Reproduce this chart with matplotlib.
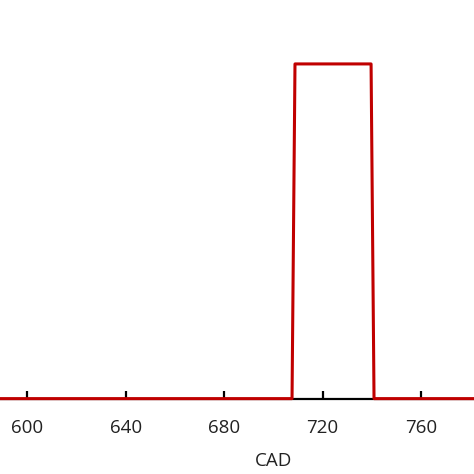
import matplotlib.pyplot as plt
import numpy as np

plt.rcParams['font.family'] = ['Open Sans', 'DejaVu Sans']

# CAD signal: flat at zero with one rectangular pulse
cad = np.array([589, 707.6, 708.8, 739.7, 740.9, 782])
signal = np.array([0, 0, 1, 1, 0, 0])
tick_values = [600, 640, 680, 720, 760]


def main():
    fig = plt.figure(figsize=(4.74, 4.74), dpi=100)
    ax = fig.add_axes([0, 0.159, 1, 0.841])

    ax.plot(cad, signal, color='#c00000', lw=2.2, clip_on=False, zorder=3)

    ax.set_xlim(589, 781.5)
    ax.set_ylim(0, 1.191)
    ax.set_xticks(tick_values)
    ax.set_yticks([])
    for side in ['left', 'right', 'top']:
        ax.spines[side].set_visible(False)
    ax.spines['bottom'].set_linewidth(1.6)
    ax.tick_params(axis='x', direction='in', length=6, width=1.6,
                   labelsize=13.5, pad=14.5, colors='black')
    for lbl in ax.get_xticklabels():
        lbl.set_color('#222222')
    ax.set_xlabel('CAD', fontsize=13.5, color='#222222', va='center')
    ax.xaxis.set_label_coords(273.5 / 474, -0.156)

    fig.savefig('out.png', dpi=100)


if __name__ == '__main__':
    main()
